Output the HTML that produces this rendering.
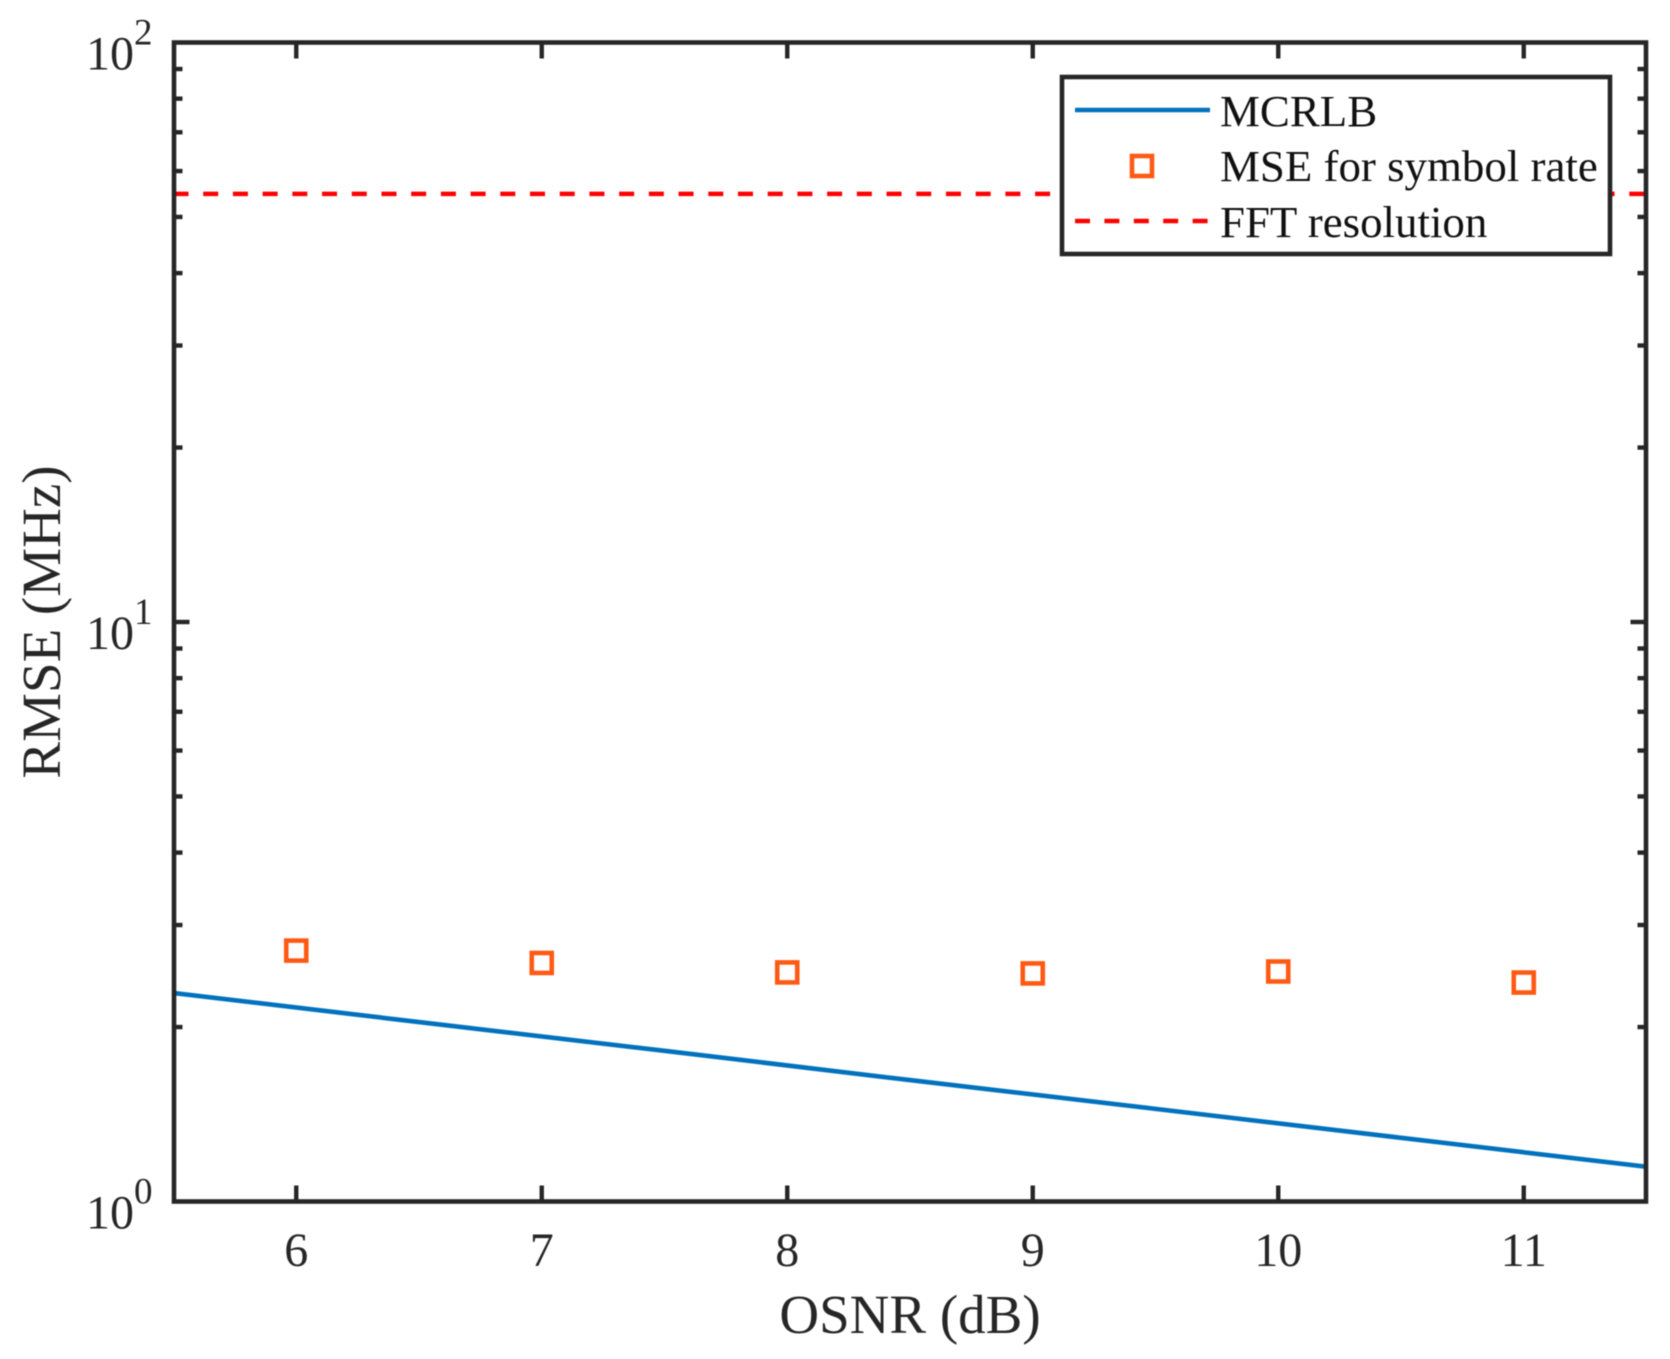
<!DOCTYPE html>
<html lang="en">
<head>
<meta charset="utf-8">
<title>RMSE vs OSNR</title>
<style>
html,body{margin:0;padding:0;background:#fff;}
svg{display:block;filter:blur(0.45px);}
text{font-family:"Liberation Serif",serif;}
</style>
</head>
<body>
<svg id="chart" xmlns="http://www.w3.org/2000/svg" width="1670" height="1359" viewBox="0 0 1670 1359">
  <rect x="0" y="0" width="1670" height="1359" fill="#ffffff"/>
  <defs>
    <clipPath id="plot-clip"><rect x="174" y="42" width="1472" height="1159"/></clipPath>
  </defs>
  <g id="ticks"></g>
  <g id="series" clip-path="url(#plot-clip)"></g>
  <g id="markers"></g>
  <rect x="174" y="42.5" width="1472" height="1159" fill="none" stroke="#262626" stroke-width="4.6"/>
  <g id="tick-labels" fill="#262626"></g>
  <text x="910" y="1333" font-size="55" text-anchor="middle" fill="#262626">OSNR (dB)</text>
  <text transform="translate(60,622) rotate(-90)" font-size="55" text-anchor="middle" fill="#262626">RMSE (MHz)</text>
  <g>
    <rect x="1062" y="77" width="548" height="177" fill="#ffffff" stroke="#262626" stroke-width="4.6"/>
    <line x1="1075" y1="110" x2="1210" y2="110" stroke="#0072BD" stroke-width="4.6"/>
    <rect x="1132" y="156" width="20" height="20" fill="none" stroke="#FF5A14" stroke-width="4.6"/>
    <line x1="1075" y1="221" x2="1210" y2="221" stroke="#FF0000" stroke-width="4.6" stroke-dasharray="15 14.4"/>
    <text x="1220" y="126" font-size="44.9" fill="#111111">MCRLB</text>
    <text x="1220" y="181" font-size="44.9" fill="#111111">MSE for symbol rate</text>
    <text x="1220" y="237" font-size="44.9" fill="#111111">FFT resolution</text>
  </g>
</svg>
<script>
var xTickValues = [6, 7, 8, 9, 10, 11];
var yTickExponents = [0, 1, 2];
var yMinorMultipliers = [2, 3, 4, 5, 6, 7, 8, 9];
var mcrlbOsnr = [5.5, 6.5, 7.5, 8.5, 9.5, 10.5, 11.5];
var mcrlbRmse = [2.29, 2.04, 1.82, 1.62, 1.445, 1.288, 1.148];
var mseOsnr = [6, 7, 8, 9, 10, 11];
var mseRmse = [2.71, 2.58, 2.485, 2.475, 2.494, 2.387];
var fftOsnr = [5.5, 11.5];
var fftRmse = [54.8, 54.8];

var NS = 'http://www.w3.org/2000/svg';
var plotLeft = 173.5, plotRight = 1646.5, plotTop = 42.5, plotBottom = 1201.5;
var xMin = 5.5, xMax = 11.5, yMinLog = 0, yMaxLog = 2;

function xScale(v) {
  return plotLeft + (v - xMin) / (xMax - xMin) * (plotRight - plotLeft);
}
function yScale(v) {
  return plotBottom - (Math.log10(v) - yMinLog) / (yMaxLog - yMinLog) * (plotBottom - plotTop);
}
function make(tag, parent) {
  var el = document.createElementNS(NS, tag);
  parent.appendChild(el);
  return el;
}
function pointsOf(xs, ys) {
  return xs.map(function (x, i) { return xScale(x).toFixed(2) + ',' + yScale(ys[i]).toFixed(2); }).join(' ');
}
function tick(parent, x1, y1, x2, y2) {
  var t = make('line', parent);
  t.setAttribute('x1', x1);
  t.setAttribute('y1', y1);
  t.setAttribute('x2', x2);
  t.setAttribute('y2', y2);
  t.setAttribute('stroke', '#262626');
  t.setAttribute('stroke-width', '4.4');
  return t;
}

var ticksG = document.getElementById('ticks');
var labelsG = document.getElementById('tick-labels');
var seriesG = document.getElementById('series');
var markersG = document.getElementById('markers');

xTickValues.forEach(function (v) {
  var x = xScale(v);
  var b = tick(ticksG, x, plotBottom, x, plotBottom - 16);
  
  
  var t = tick(ticksG, x, plotTop, x, plotTop + 16);
  
  
  var lab = make('text', labelsG);
  
  
  lab.setAttribute('x', x);
  lab.setAttribute('y', 1266);
  lab.setAttribute('font-size', '48');
  lab.setAttribute('text-anchor', 'middle');
  lab.textContent = String(v);
});

yTickExponents.forEach(function (e) {
  var value = Math.pow(10, e);
  var y = yScale(value);
  if (e > 0 && e < 2) {
    var l = tick(ticksG, plotLeft, y, plotLeft + 16, y);
    
    
    var r = tick(ticksG, plotRight, y, plotRight - 16, y);
    
    
  }
  var base = make('text', labelsG);
  
  
  base.setAttribute('x', 86);
  base.setAttribute('y', y + 27);
  base.setAttribute('font-size', '48');
  base.textContent = '10';
  var sup = make('text', labelsG);
  
  
  sup.setAttribute('x', 134);
  sup.setAttribute('y', y + 2);
  sup.setAttribute('font-size', '37');
  sup.textContent = String(e);
  if (e < 2) {
    yMinorMultipliers.forEach(function (m) {
      var my = yScale(value * m);
      var ml = tick(ticksG, plotLeft, my, plotLeft + 9, my);
      
      
      var mr = tick(ticksG, plotRight, my, plotRight - 9, my);
      
      
    });
  }
});

var fftLine = make('polyline', seriesG);


fftLine.setAttribute('points', pointsOf(fftOsnr, fftRmse));
fftLine.setAttribute('fill', 'none');
fftLine.setAttribute('stroke', '#FF0000');
fftLine.setAttribute('stroke-width', '4.6');
fftLine.setAttribute('stroke-dasharray', '15 14.71');

var mcrlbLine = make('polyline', seriesG);


mcrlbLine.setAttribute('points', pointsOf(mcrlbOsnr, mcrlbRmse));
mcrlbLine.setAttribute('fill', 'none');
mcrlbLine.setAttribute('stroke', '#0072BD');
mcrlbLine.setAttribute('stroke-width', '4.6');

mseOsnr.forEach(function (x, i) {
  var m = make('rect', markersG);
  
  
  m.setAttribute('x', xScale(x) - 10);
  m.setAttribute('y', yScale(mseRmse[i]) - 10);
  m.setAttribute('width', 20);
  m.setAttribute('height', 20);
  m.setAttribute('fill', 'none');
  m.setAttribute('stroke', '#FF5A14');
  m.setAttribute('stroke-width', '4.6');
});
</script>
</body>
</html>
